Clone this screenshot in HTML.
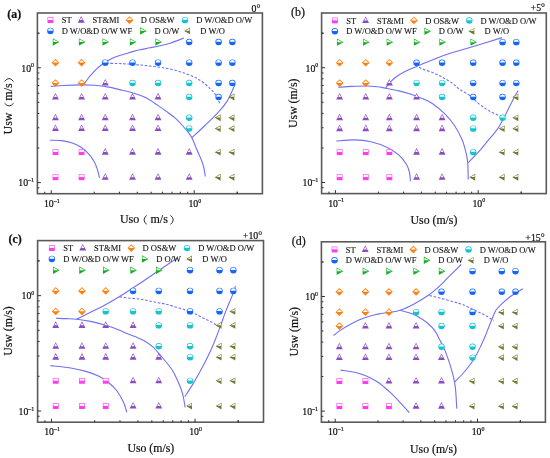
<!DOCTYPE html>
<html><head><meta charset="utf-8"><style>
html,body{margin:0;padding:0;background:#fff;width:550px;height:458px;overflow:hidden;font-family:"Liberation Serif",serif;}
svg{display:block;filter:blur(0.35px);}
text{stroke:#111;stroke-width:0.2px;}
text[font-size="8.5"]{stroke-width:0.1px;}
</style></head><body>
<svg width="550" height="458" viewBox="0 0 550 458">
<rect width="550" height="458" fill="#fff"/>
<path d="M50.80,86.40 C52.87,86.25 58.10,85.75 63.20,85.50 C68.30,85.25 76.10,84.93 81.40,84.90 C86.70,84.87 90.47,84.93 95.00,85.30 C99.53,85.67 104.05,86.27 108.60,87.10 C113.15,87.93 118.20,89.32 122.30,90.30 C126.40,91.28 129.42,91.83 133.20,93.00 C136.98,94.17 140.83,95.20 145.00,97.30 C149.17,99.40 154.37,103.07 158.20,105.60 C162.03,108.13 164.97,110.25 168.00,112.50 C171.03,114.75 173.42,116.27 176.40,119.10 C179.38,121.93 183.35,126.43 185.90,129.50 C188.45,132.57 189.87,134.12 191.70,137.50 C193.53,140.88 195.30,146.10 196.90,149.80 C198.50,153.50 200.15,156.75 201.30,159.70 C202.45,162.65 203.13,164.70 203.80,167.50 C204.47,170.30 205.05,175.00 205.30,176.50" fill="none" stroke="#7070f5" stroke-width="1.1"/>
<path d="M83.50,85.00 C84.25,83.92 86.58,80.37 88.00,78.50 C89.42,76.63 90.50,75.45 92.00,73.80 C93.50,72.15 95.50,70.03 97.00,68.60 C98.50,67.17 99.62,66.23 101.00,65.20 C102.38,64.17 103.60,63.45 105.25,62.40 C106.90,61.35 108.74,59.97 110.90,58.90 C113.06,57.83 115.77,56.85 118.20,56.00 C120.63,55.15 123.08,54.53 125.50,53.80 C127.92,53.07 130.28,52.27 132.70,51.60 C135.12,50.93 137.12,50.43 140.00,49.80 C142.88,49.17 146.67,48.48 150.00,47.80 C153.33,47.12 156.67,46.47 160.00,45.70 C163.33,44.93 166.00,44.47 170.00,43.20 C174.00,41.93 181.67,38.95 184.00,38.10" fill="none" stroke="#7070f5" stroke-width="1.1"/>
<path d="M106.00,63.30 C108.00,63.33 114.63,63.40 118.00,63.50 C121.37,63.60 122.53,63.65 126.20,63.90 C129.87,64.15 136.03,64.65 140.00,65.00 C143.97,65.35 146.67,65.62 150.00,66.00 C153.33,66.38 156.88,66.85 160.00,67.30 C163.12,67.75 165.78,68.10 168.70,68.70 C171.62,69.30 174.70,70.10 177.50,70.90 C180.30,71.70 182.83,72.53 185.50,73.50 C188.17,74.47 191.45,75.80 193.50,76.70 C195.55,77.60 196.03,77.82 197.80,78.90 C199.57,79.98 201.97,81.50 204.10,83.20 C206.23,84.90 208.75,87.25 210.60,89.10 C212.45,90.95 213.67,91.90 215.20,94.30 C216.73,96.70 219.03,101.97 219.80,103.50" fill="none" stroke="#7070f5" stroke-width="1.1" stroke-dasharray="2.6,1.7"/>
<path d="M192.00,137.60 C194.25,135.50 201.07,129.30 205.50,125.00 C209.93,120.70 214.97,115.82 218.60,111.80 C222.23,107.78 224.57,105.45 227.30,100.90 C230.03,96.35 233.72,87.23 235.00,84.50" fill="none" stroke="#7070f5" stroke-width="1.1"/>
<path d="M49.90,140.20 C51.82,140.27 57.67,140.15 61.40,140.60 C65.13,141.05 69.03,141.78 72.30,142.90 C75.57,144.02 78.28,145.48 81.00,147.30 C83.72,149.12 86.42,151.45 88.60,153.80 C90.78,156.15 92.65,158.85 94.10,161.40 C95.55,163.95 96.40,166.37 97.30,169.10 C98.20,171.83 99.13,176.35 99.50,177.80" fill="none" stroke="#7070f5" stroke-width="1.1"/>
<path d="M52.75,38.35 L59.35,42.05 L52.75,45.75Z" fill="#10b020"/><path d="M53.35,39.37 L58.12,42.05 L58.12,42.05 L53.35,42.05Z" fill="#fff"/>
<path d="M78.90,38.35 L85.50,42.05 L78.90,45.75Z" fill="#10b020"/><path d="M79.50,39.37 L84.27,42.05 L84.27,42.05 L79.50,42.05Z" fill="#fff"/>
<path d="M102.55,38.35 L109.15,42.05 L102.55,45.75Z" fill="#10b020"/><path d="M103.15,39.37 L107.92,42.05 L107.92,42.05 L103.15,42.05Z" fill="#fff"/>
<path d="M129.80,38.35 L136.40,42.05 L129.80,45.75Z" fill="#10b020"/><path d="M130.40,39.37 L135.17,42.05 L135.17,42.05 L130.40,42.05Z" fill="#fff"/>
<path d="M155.35,38.35 L161.95,42.05 L155.35,45.75Z" fill="#10b020"/><path d="M155.95,39.37 L160.72,42.05 L160.72,42.05 L155.95,42.05Z" fill="#fff"/>
<circle cx="189.20" cy="42.05" r="3.20" fill="#1464ff"/><path d="M186.62,41.75 A2.60,2.60 0 0 1 191.78,41.75Z" fill="#fff"/>
<circle cx="218.60" cy="42.05" r="3.20" fill="#1464ff"/><path d="M216.02,41.75 A2.60,2.60 0 0 1 221.18,41.75Z" fill="#fff"/>
<circle cx="232.35" cy="42.05" r="3.20" fill="#1464ff"/><path d="M229.77,41.75 A2.60,2.60 0 0 1 234.93,41.75Z" fill="#fff"/>
<path d="M55.45,58.85 L59.30,62.70 L55.45,66.55 L51.60,62.70Z" fill="#ff8010"/><path d="M55.45,60.05 L58.00,62.60 L52.90,62.60Z" fill="#fff"/>
<path d="M81.60,58.85 L85.45,62.70 L81.60,66.55 L77.75,62.70Z" fill="#ff8010"/><path d="M81.60,60.05 L84.15,62.60 L79.05,62.60Z" fill="#fff"/>
<circle cx="105.25" cy="62.70" r="3.20" fill="#1464ff"/><path d="M102.67,62.40 A2.60,2.60 0 0 1 107.83,62.40Z" fill="#fff"/>
<circle cx="132.50" cy="62.70" r="3.20" fill="#1464ff"/><path d="M129.92,62.40 A2.60,2.60 0 0 1 135.08,62.40Z" fill="#fff"/>
<circle cx="158.05" cy="62.70" r="3.20" fill="#1464ff"/><path d="M155.47,62.40 A2.60,2.60 0 0 1 160.63,62.40Z" fill="#fff"/>
<circle cx="189.20" cy="62.70" r="3.20" fill="#1464ff"/><path d="M186.62,62.40 A2.60,2.60 0 0 1 191.78,62.40Z" fill="#fff"/>
<circle cx="218.60" cy="62.70" r="3.20" fill="#1464ff"/><path d="M216.02,62.40 A2.60,2.60 0 0 1 221.18,62.40Z" fill="#fff"/>
<circle cx="232.35" cy="62.70" r="3.20" fill="#1464ff"/><path d="M229.77,62.40 A2.60,2.60 0 0 1 234.93,62.40Z" fill="#fff"/>
<path d="M55.45,79.20 L59.30,83.05 L55.45,86.90 L51.60,83.05Z" fill="#ff8010"/><path d="M55.45,80.40 L58.00,82.95 L52.90,82.95Z" fill="#fff"/>
<path d="M81.60,79.20 L85.45,83.05 L81.60,86.90 L77.75,83.05Z" fill="#ff8010"/><path d="M81.60,80.40 L84.15,82.95 L79.05,82.95Z" fill="#fff"/>
<path d="M105.25,78.95 L108.70,85.55 L101.80,85.55Z" fill="#8a4cbf"/><path d="M105.25,80.29 L106.64,82.95 L103.86,82.95Z" fill="#fff"/>
<circle cx="132.50" cy="83.05" r="3.20" fill="#14c4d0"/><path d="M129.92,82.75 A2.60,2.60 0 0 1 135.08,82.75Z" fill="#fff"/>
<circle cx="158.05" cy="83.05" r="3.20" fill="#14c4d0"/><path d="M155.47,82.75 A2.60,2.60 0 0 1 160.63,82.75Z" fill="#fff"/>
<circle cx="189.20" cy="83.05" r="3.20" fill="#14c4d0"/><path d="M186.62,82.75 A2.60,2.60 0 0 1 191.78,82.75Z" fill="#fff"/>
<circle cx="218.60" cy="83.05" r="3.20" fill="#1464ff"/><path d="M216.02,82.75 A2.60,2.60 0 0 1 221.18,82.75Z" fill="#fff"/>
<circle cx="232.35" cy="83.05" r="3.20" fill="#1464ff"/><path d="M229.77,82.75 A2.60,2.60 0 0 1 234.93,82.75Z" fill="#fff"/>
<path d="M55.45,92.90 L58.90,99.50 L52.00,99.50Z" fill="#8a4cbf"/><path d="M55.45,94.24 L56.84,96.90 L54.06,96.90Z" fill="#fff"/>
<path d="M81.60,92.90 L85.05,99.50 L78.15,99.50Z" fill="#8a4cbf"/><path d="M81.60,94.24 L82.99,96.90 L80.21,96.90Z" fill="#fff"/>
<path d="M105.25,92.90 L108.70,99.50 L101.80,99.50Z" fill="#8a4cbf"/><path d="M105.25,94.24 L106.64,96.90 L103.86,96.90Z" fill="#fff"/>
<path d="M132.50,92.90 L135.95,99.50 L129.05,99.50Z" fill="#8a4cbf"/><path d="M132.50,94.24 L133.89,96.90 L131.11,96.90Z" fill="#fff"/>
<path d="M158.05,92.90 L161.50,99.50 L154.60,99.50Z" fill="#8a4cbf"/><path d="M158.05,94.24 L159.44,96.90 L156.66,96.90Z" fill="#fff"/>
<circle cx="189.20" cy="97.00" r="3.20" fill="#14c4d0"/><path d="M186.62,96.70 A2.60,2.60 0 0 1 191.78,96.70Z" fill="#fff"/>
<circle cx="218.60" cy="97.00" r="3.20" fill="#1464ff"/><path d="M216.02,96.70 A2.60,2.60 0 0 1 221.18,96.70Z" fill="#fff"/>
<path d="M234.35,93.60 L234.35,100.40 L228.45,97.00Z" fill="#727a30"/><path d="M233.80,94.55 L233.80,96.80 L229.90,96.80Z" fill="#fff"/>
<path d="M55.45,113.65 L58.90,120.25 L52.00,120.25Z" fill="#8a4cbf"/><path d="M55.45,114.99 L56.84,117.65 L54.06,117.65Z" fill="#fff"/>
<path d="M81.60,113.65 L85.05,120.25 L78.15,120.25Z" fill="#8a4cbf"/><path d="M81.60,114.99 L82.99,117.65 L80.21,117.65Z" fill="#fff"/>
<path d="M105.25,113.65 L108.70,120.25 L101.80,120.25Z" fill="#8a4cbf"/><path d="M105.25,114.99 L106.64,117.65 L103.86,117.65Z" fill="#fff"/>
<path d="M132.50,113.65 L135.95,120.25 L129.05,120.25Z" fill="#8a4cbf"/><path d="M132.50,114.99 L133.89,117.65 L131.11,117.65Z" fill="#fff"/>
<path d="M158.05,113.65 L161.50,120.25 L154.60,120.25Z" fill="#8a4cbf"/><path d="M158.05,114.99 L159.44,117.65 L156.66,117.65Z" fill="#fff"/>
<circle cx="189.20" cy="117.75" r="3.20" fill="#14c4d0"/><path d="M186.62,117.45 A2.60,2.60 0 0 1 191.78,117.45Z" fill="#fff"/>
<path d="M220.60,114.35 L220.60,121.15 L214.70,117.75Z" fill="#727a30"/><path d="M220.05,115.30 L220.05,117.55 L216.15,117.55Z" fill="#fff"/>
<path d="M234.35,114.35 L234.35,121.15 L228.45,117.75Z" fill="#727a30"/><path d="M233.80,115.30 L233.80,117.55 L229.90,117.55Z" fill="#fff"/>
<path d="M55.45,124.50 L58.90,131.10 L52.00,131.10Z" fill="#8a4cbf"/><path d="M55.45,125.84 L56.84,128.50 L54.06,128.50Z" fill="#fff"/>
<path d="M81.60,124.50 L85.05,131.10 L78.15,131.10Z" fill="#8a4cbf"/><path d="M81.60,125.84 L82.99,128.50 L80.21,128.50Z" fill="#fff"/>
<path d="M105.25,124.50 L108.70,131.10 L101.80,131.10Z" fill="#8a4cbf"/><path d="M105.25,125.84 L106.64,128.50 L103.86,128.50Z" fill="#fff"/>
<path d="M132.50,124.50 L135.95,131.10 L129.05,131.10Z" fill="#8a4cbf"/><path d="M132.50,125.84 L133.89,128.50 L131.11,128.50Z" fill="#fff"/>
<path d="M158.05,124.50 L161.50,131.10 L154.60,131.10Z" fill="#8a4cbf"/><path d="M158.05,125.84 L159.44,128.50 L156.66,128.50Z" fill="#fff"/>
<circle cx="189.20" cy="128.60" r="3.20" fill="#14c4d0"/><path d="M186.62,128.30 A2.60,2.60 0 0 1 191.78,128.30Z" fill="#fff"/>
<path d="M220.60,125.20 L220.60,132.00 L214.70,128.60Z" fill="#727a30"/><path d="M220.05,126.15 L220.05,128.40 L216.15,128.40Z" fill="#fff"/>
<path d="M234.35,125.20 L234.35,132.00 L228.45,128.60Z" fill="#727a30"/><path d="M233.80,126.15 L233.80,128.40 L229.90,128.40Z" fill="#fff"/>
<path d="M52.55,149.25 L58.35,149.25 L58.35,155.05 L52.55,155.05Z" fill="#ff3cf0"/><path d="M53.15,149.85 L57.75,149.85 L57.75,151.95 L53.15,151.95Z" fill="#fff"/>
<path d="M78.70,149.25 L84.50,149.25 L84.50,155.05 L78.70,155.05Z" fill="#ff3cf0"/><path d="M79.30,149.85 L83.90,149.85 L83.90,151.95 L79.30,151.95Z" fill="#fff"/>
<path d="M105.25,148.05 L108.70,154.65 L101.80,154.65Z" fill="#8a4cbf"/><path d="M105.25,149.39 L106.64,152.05 L103.86,152.05Z" fill="#fff"/>
<path d="M132.50,148.05 L135.95,154.65 L129.05,154.65Z" fill="#8a4cbf"/><path d="M132.50,149.39 L133.89,152.05 L131.11,152.05Z" fill="#fff"/>
<path d="M158.05,148.05 L161.50,154.65 L154.60,154.65Z" fill="#8a4cbf"/><path d="M158.05,149.39 L159.44,152.05 L156.66,152.05Z" fill="#fff"/>
<path d="M189.20,148.05 L192.65,154.65 L185.75,154.65Z" fill="#8a4cbf"/><path d="M189.20,149.39 L190.59,152.05 L187.81,152.05Z" fill="#fff"/>
<path d="M220.60,148.75 L220.60,155.55 L214.70,152.15Z" fill="#727a30"/><path d="M220.05,149.70 L220.05,151.95 L216.15,151.95Z" fill="#fff"/>
<path d="M234.35,148.75 L234.35,155.55 L228.45,152.15Z" fill="#727a30"/><path d="M233.80,149.70 L233.80,151.95 L229.90,151.95Z" fill="#fff"/>
<path d="M52.55,174.35 L58.35,174.35 L58.35,180.15 L52.55,180.15Z" fill="#ff3cf0"/><path d="M53.15,174.95 L57.75,174.95 L57.75,177.05 L53.15,177.05Z" fill="#fff"/>
<path d="M78.70,174.35 L84.50,174.35 L84.50,180.15 L78.70,180.15Z" fill="#ff3cf0"/><path d="M79.30,174.95 L83.90,174.95 L83.90,177.05 L79.30,177.05Z" fill="#fff"/>
<path d="M105.25,173.15 L108.70,179.75 L101.80,179.75Z" fill="#8a4cbf"/><path d="M105.25,174.49 L106.64,177.15 L103.86,177.15Z" fill="#fff"/>
<path d="M132.50,173.15 L135.95,179.75 L129.05,179.75Z" fill="#8a4cbf"/><path d="M132.50,174.49 L133.89,177.15 L131.11,177.15Z" fill="#fff"/>
<path d="M158.05,173.15 L161.50,179.75 L154.60,179.75Z" fill="#8a4cbf"/><path d="M158.05,174.49 L159.44,177.15 L156.66,177.15Z" fill="#fff"/>
<path d="M189.20,173.15 L192.65,179.75 L185.75,179.75Z" fill="#8a4cbf"/><path d="M189.20,174.49 L190.59,177.15 L187.81,177.15Z" fill="#fff"/>
<path d="M220.60,173.85 L220.60,180.65 L214.70,177.25Z" fill="#727a30"/><path d="M220.05,174.80 L220.05,177.05 L216.15,177.05Z" fill="#fff"/>
<path d="M234.35,173.85 L234.35,180.65 L228.45,177.25Z" fill="#727a30"/><path d="M233.80,174.80 L233.80,177.05 L229.90,177.05Z" fill="#fff"/>
<path d="M47.50,17.25 L53.30,17.25 L53.30,23.05 L47.50,23.05Z" fill="#ff3cf0"/><path d="M48.10,17.85 L52.70,17.85 L52.70,19.95 L48.10,19.95Z" fill="#fff"/>
<text x="61.70" y="23.15" font-size="8.5" font-family="Liberation Serif, serif" fill="#111">ST</text>
<path d="M81.20,16.05 L84.65,22.65 L77.75,22.65Z" fill="#8a4cbf"/><path d="M81.20,17.39 L82.59,20.05 L79.81,20.05Z" fill="#fff"/>
<text x="92.50" y="23.15" font-size="8.5" font-family="Liberation Serif, serif" fill="#111">ST&amp;MI</text>
<path d="M129.50,16.30 L133.35,20.15 L129.50,24.00 L125.65,20.15Z" fill="#ff8010"/><path d="M129.50,17.50 L132.05,20.05 L126.95,20.05Z" fill="#fff"/>
<text x="140.80" y="23.15" font-size="8.5" font-family="Liberation Serif, serif" fill="#111">D OS&amp;W</text>
<circle cx="185.00" cy="20.15" r="3.20" fill="#14c4d0"/><path d="M182.42,19.85 A2.60,2.60 0 0 1 187.58,19.85Z" fill="#fff"/>
<text x="196.20" y="23.15" font-size="8.5" font-family="Liberation Serif, serif" fill="#111">D W/O&amp;D O/W</text>
<circle cx="50.40" cy="30.95" r="3.20" fill="#1464ff"/><path d="M47.82,30.65 A2.60,2.60 0 0 1 52.98,30.65Z" fill="#fff"/>
<text x="61.70" y="33.95" font-size="8.5" font-family="Liberation Serif, serif" fill="#111">D W/O&amp;D O/W WF</text>
<path d="M140.10,27.25 L146.70,30.95 L140.10,34.65Z" fill="#10b020"/><path d="M140.70,28.27 L145.47,30.95 L145.47,30.95 L140.70,30.95Z" fill="#fff"/>
<text x="154.50" y="33.95" font-size="8.5" font-family="Liberation Serif, serif" fill="#111">D O/W</text>
<path d="M190.00,27.55 L190.00,34.35 L184.10,30.95Z" fill="#727a30"/><path d="M189.45,28.50 L189.45,30.75 L185.55,30.75Z" fill="#fff"/>
<text x="200.30" y="33.95" font-size="8.5" font-family="Liberation Serif, serif" fill="#111">D W/O</text>
<rect x="37.40" y="13.00" width="225.0" height="180.7" fill="none" stroke="#5a5a5a" stroke-width="1.6"/>
<line x1="44.71" y1="193.70" x2="44.71" y2="191.70" stroke="#333" stroke-width="1"/>
<line x1="37.40" y1="187.83" x2="39.40" y2="187.83" stroke="#333" stroke-width="1"/>
<line x1="51.25" y1="193.70" x2="51.25" y2="190.20" stroke="#333" stroke-width="1"/>
<line x1="37.40" y1="182.57" x2="40.90" y2="182.57" stroke="#333" stroke-width="1"/>
<line x1="94.28" y1="193.70" x2="94.28" y2="191.70" stroke="#333" stroke-width="1"/>
<line x1="37.40" y1="148.02" x2="39.40" y2="148.02" stroke="#333" stroke-width="1"/>
<line x1="119.45" y1="193.70" x2="119.45" y2="191.70" stroke="#333" stroke-width="1"/>
<line x1="37.40" y1="127.80" x2="39.40" y2="127.80" stroke="#333" stroke-width="1"/>
<line x1="137.31" y1="193.70" x2="137.31" y2="191.70" stroke="#333" stroke-width="1"/>
<line x1="37.40" y1="113.46" x2="39.40" y2="113.46" stroke="#333" stroke-width="1"/>
<line x1="151.17" y1="193.70" x2="151.17" y2="191.70" stroke="#333" stroke-width="1"/>
<line x1="37.40" y1="102.33" x2="39.40" y2="102.33" stroke="#333" stroke-width="1"/>
<line x1="162.49" y1="193.70" x2="162.49" y2="191.70" stroke="#333" stroke-width="1"/>
<line x1="37.40" y1="93.24" x2="39.40" y2="93.24" stroke="#333" stroke-width="1"/>
<line x1="172.06" y1="193.70" x2="172.06" y2="191.70" stroke="#333" stroke-width="1"/>
<line x1="37.40" y1="85.56" x2="39.40" y2="85.56" stroke="#333" stroke-width="1"/>
<line x1="180.35" y1="193.70" x2="180.35" y2="191.70" stroke="#333" stroke-width="1"/>
<line x1="37.40" y1="78.90" x2="39.40" y2="78.90" stroke="#333" stroke-width="1"/>
<line x1="187.66" y1="193.70" x2="187.66" y2="191.70" stroke="#333" stroke-width="1"/>
<line x1="37.40" y1="73.03" x2="39.40" y2="73.03" stroke="#333" stroke-width="1"/>
<line x1="194.20" y1="193.70" x2="194.20" y2="190.20" stroke="#333" stroke-width="1"/>
<line x1="37.40" y1="67.77" x2="40.90" y2="67.77" stroke="#333" stroke-width="1"/>
<line x1="237.23" y1="193.70" x2="237.23" y2="191.70" stroke="#333" stroke-width="1"/>
<line x1="37.40" y1="33.22" x2="39.40" y2="33.22" stroke="#333" stroke-width="1"/>
<line x1="237.23" y1="193.70" x2="237.23" y2="191.70" stroke="#333" stroke-width="1"/>
<line x1="37.40" y1="33.22" x2="39.40" y2="33.22" stroke="#333" stroke-width="1"/>
<text x="51.85" y="206.60" font-size="9.8" font-family="Liberation Serif, serif" fill="#111" text-anchor="middle">10<tspan font-size="6" dy="-4.1">&#8211;1</tspan></text>
<text x="34.10" y="186.37" font-size="9.8" font-family="Liberation Serif, serif" fill="#111" text-anchor="end">10<tspan font-size="6" dy="-4.1">&#8211;1</tspan></text>
<text x="194.80" y="206.60" font-size="9.8" font-family="Liberation Serif, serif" fill="#111" text-anchor="middle">10<tspan font-size="6" dy="-4.1">0</tspan></text>
<text x="34.10" y="71.57" font-size="9.8" font-family="Liberation Serif, serif" fill="#111" text-anchor="end">10<tspan font-size="6" dy="-4.1">0</tspan></text>
<text x="7.16" y="17.76" font-size="12" font-family="Liberation Serif, serif" fill="#111" font-weight="bold">(a)</text>
<text x="260.48" y="11.76" font-size="9.9" font-family="Liberation Serif, serif" fill="#111" text-anchor="end">0°</text>
<g transform="translate(120.14,223.20)"><text x="-0.2" y="0" font-size="12.0" font-family="Liberation Serif, serif" fill="#111">Uso</text><path d="M26.50,-7.80 Q21.30,-3.30 26.50,1.20" fill="none" stroke="#222" stroke-width="0.95"/><text x="30.40" y="0" font-size="12.0" font-family="Liberation Serif, serif" fill="#111">m/s</text><path d="M50.40,-7.80 Q55.80,-3.30 50.40,1.20" fill="none" stroke="#222" stroke-width="0.95"/></g>
<g transform="translate(12.36,134.32) rotate(-90)"><text x="-0.2" y="0" font-size="12.0" font-family="Liberation Serif, serif" fill="#111">Usw</text><path d="M31.10,-7.80 Q25.70,-3.30 31.10,1.20" fill="none" stroke="#222" stroke-width="0.95"/><text x="33.70" y="0" font-size="12.0" font-family="Liberation Serif, serif" fill="#111">m/s</text><path d="M52.80,-7.80 Q58.80,-3.30 52.80,1.20" fill="none" stroke="#222" stroke-width="0.95"/></g>
<path d="M338.20,87.30 C340.47,87.15 347.25,86.62 351.80,86.40 C356.35,86.18 361.25,85.95 365.50,86.00 C369.75,86.05 373.97,86.33 377.30,86.70 C380.63,87.07 381.88,87.50 385.50,88.20 C389.12,88.90 394.62,89.85 399.00,90.90 C403.38,91.95 407.85,93.20 411.80,94.50 C415.75,95.80 419.28,97.20 422.70,98.70 C426.12,100.20 428.65,101.00 432.30,103.50 C435.95,106.00 440.90,110.03 444.60,113.70 C448.30,117.37 451.55,121.08 454.50,125.50 C457.45,129.92 460.33,135.47 462.30,140.20 C464.27,144.93 465.38,149.97 466.30,153.90 C467.22,157.83 467.48,159.53 467.80,163.80 C468.12,168.07 468.13,176.88 468.20,179.50" fill="none" stroke="#7070f5" stroke-width="1.1"/>
<path d="M385.50,88.20 C386.25,87.28 388.37,84.48 390.00,82.70 C391.63,80.92 392.80,79.37 395.30,77.50 C397.80,75.63 401.62,73.27 405.00,71.50 C408.38,69.73 409.17,69.58 415.60,66.90 C422.03,64.22 434.68,58.58 443.60,55.40 C452.52,52.22 459.35,50.77 469.10,47.80 C478.85,44.83 496.60,39.30 502.10,37.60" fill="none" stroke="#7070f5" stroke-width="1.1"/>
<path d="M415.50,65.00 C416.70,65.67 419.60,67.63 422.70,69.00 C425.80,70.37 430.68,71.75 434.10,73.20 C437.52,74.65 440.17,76.03 443.20,77.70 C446.23,79.37 449.50,81.22 452.30,83.20 C455.10,85.18 457.17,87.60 460.00,89.60 C462.83,91.60 466.20,92.87 469.30,95.20 C472.40,97.53 475.50,101.12 478.60,103.60 C481.70,106.08 484.82,108.25 487.90,110.10 C490.98,111.95 494.63,113.62 497.10,114.70 C499.57,115.78 501.77,116.28 502.70,116.60" fill="none" stroke="#7070f5" stroke-width="1.1" stroke-dasharray="2.6,1.7"/>
<path d="M468.30,162.60 C470.02,160.82 475.33,155.55 478.60,151.90 C481.87,148.25 484.82,144.42 487.90,140.70 C490.98,136.98 494.63,133.00 497.10,129.60 C499.57,126.20 500.83,123.72 502.70,120.30 C504.57,116.88 506.43,112.82 508.30,109.10 C510.17,105.38 512.25,101.10 513.90,98.00 C515.55,94.90 517.48,91.75 518.20,90.50" fill="none" stroke="#7070f5" stroke-width="1.1"/>
<path d="M336.30,141.00 C339.33,140.82 348.73,139.77 354.50,139.90 C360.27,140.03 365.43,140.53 370.90,141.80 C376.37,143.07 382.67,145.32 387.30,147.50 C391.93,149.68 395.52,152.12 398.70,154.90 C401.88,157.68 404.60,161.27 406.40,164.20 C408.20,167.13 408.83,169.67 409.50,172.50 C410.17,175.33 410.25,179.75 410.40,181.20" fill="none" stroke="#7070f5" stroke-width="1.1"/>
<path d="M336.93,38.43 L343.53,42.13 L336.93,45.83Z" fill="#10b020"/><path d="M337.53,39.46 L342.30,42.13 L342.30,42.13 L337.53,42.13Z" fill="#fff"/>
<path d="M363.04,38.43 L369.64,42.13 L363.04,45.83Z" fill="#10b020"/><path d="M363.64,39.46 L368.41,42.13 L368.41,42.13 L363.64,42.13Z" fill="#fff"/>
<path d="M386.66,38.43 L393.26,42.13 L386.66,45.83Z" fill="#10b020"/><path d="M387.26,39.46 L392.03,42.13 L392.03,42.13 L387.26,42.13Z" fill="#fff"/>
<path d="M413.87,38.43 L420.47,42.13 L413.87,45.83Z" fill="#10b020"/><path d="M414.47,39.46 L419.25,42.13 L419.25,42.13 L414.47,42.13Z" fill="#fff"/>
<path d="M439.39,38.43 L445.99,42.13 L439.39,45.83Z" fill="#10b020"/><path d="M439.99,39.46 L444.76,42.13 L444.76,42.13 L439.99,42.13Z" fill="#fff"/>
<path d="M470.50,38.43 L477.10,42.13 L470.50,45.83Z" fill="#10b020"/><path d="M471.10,39.46 L475.87,42.13 L475.87,42.13 L471.10,42.13Z" fill="#fff"/>
<circle cx="502.56" cy="42.13" r="3.20" fill="#1464ff"/><path d="M499.98,41.83 A2.60,2.60 0 0 1 505.14,41.83Z" fill="#fff"/>
<circle cx="516.29" cy="42.13" r="3.20" fill="#1464ff"/><path d="M513.71,41.83 A2.60,2.60 0 0 1 518.87,41.83Z" fill="#fff"/>
<path d="M339.63,58.92 L343.48,62.77 L339.63,66.62 L335.78,62.77Z" fill="#ff8010"/><path d="M339.63,60.12 L342.17,62.67 L337.08,62.67Z" fill="#fff"/>
<path d="M365.74,58.92 L369.59,62.77 L365.74,66.62 L361.89,62.77Z" fill="#ff8010"/><path d="M365.74,60.12 L368.29,62.67 L363.19,62.67Z" fill="#fff"/>
<path d="M389.36,58.92 L393.21,62.77 L389.36,66.62 L385.51,62.77Z" fill="#ff8010"/><path d="M389.36,60.12 L391.91,62.67 L386.81,62.67Z" fill="#fff"/>
<circle cx="416.57" cy="62.77" r="3.20" fill="#1464ff"/><path d="M413.99,62.47 A2.60,2.60 0 0 1 419.16,62.47Z" fill="#fff"/>
<circle cx="442.09" cy="62.77" r="3.20" fill="#1464ff"/><path d="M439.51,62.47 A2.60,2.60 0 0 1 444.67,62.47Z" fill="#fff"/>
<circle cx="473.20" cy="62.77" r="3.20" fill="#1464ff"/><path d="M470.61,62.47 A2.60,2.60 0 0 1 475.78,62.47Z" fill="#fff"/>
<circle cx="502.56" cy="62.77" r="3.20" fill="#1464ff"/><path d="M499.98,62.47 A2.60,2.60 0 0 1 505.14,62.47Z" fill="#fff"/>
<circle cx="516.29" cy="62.77" r="3.20" fill="#1464ff"/><path d="M513.71,62.47 A2.60,2.60 0 0 1 518.87,62.47Z" fill="#fff"/>
<path d="M339.63,79.26 L343.48,83.11 L339.63,86.96 L335.78,83.11Z" fill="#ff8010"/><path d="M339.63,80.46 L342.17,83.01 L337.08,83.01Z" fill="#fff"/>
<path d="M365.74,79.26 L369.59,83.11 L365.74,86.96 L361.89,83.11Z" fill="#ff8010"/><path d="M365.74,80.46 L368.29,83.01 L363.19,83.01Z" fill="#fff"/>
<path d="M389.36,79.01 L392.81,85.61 L385.91,85.61Z" fill="#8a4cbf"/><path d="M389.36,80.35 L390.75,83.01 L387.97,83.01Z" fill="#fff"/>
<circle cx="416.57" cy="83.11" r="3.20" fill="#14c4d0"/><path d="M413.99,82.81 A2.60,2.60 0 0 1 419.16,82.81Z" fill="#fff"/>
<circle cx="442.09" cy="83.11" r="3.20" fill="#14c4d0"/><path d="M439.51,82.81 A2.60,2.60 0 0 1 444.67,82.81Z" fill="#fff"/>
<circle cx="473.20" cy="83.11" r="3.20" fill="#1464ff"/><path d="M470.61,82.81 A2.60,2.60 0 0 1 475.78,82.81Z" fill="#fff"/>
<circle cx="502.56" cy="83.11" r="3.20" fill="#1464ff"/><path d="M499.98,82.81 A2.60,2.60 0 0 1 505.14,82.81Z" fill="#fff"/>
<circle cx="516.29" cy="83.11" r="3.20" fill="#1464ff"/><path d="M513.71,82.81 A2.60,2.60 0 0 1 518.87,82.81Z" fill="#fff"/>
<path d="M339.63,92.95 L343.08,99.55 L336.18,99.55Z" fill="#8a4cbf"/><path d="M339.63,94.29 L341.02,96.95 L338.23,96.95Z" fill="#fff"/>
<path d="M365.74,92.95 L369.19,99.55 L362.29,99.55Z" fill="#8a4cbf"/><path d="M365.74,94.29 L367.13,96.95 L364.35,96.95Z" fill="#fff"/>
<path d="M389.36,92.95 L392.81,99.55 L385.91,99.55Z" fill="#8a4cbf"/><path d="M389.36,94.29 L390.75,96.95 L387.97,96.95Z" fill="#fff"/>
<path d="M416.57,92.95 L420.02,99.55 L413.12,99.55Z" fill="#8a4cbf"/><path d="M416.57,94.29 L417.96,96.95 L415.18,96.95Z" fill="#fff"/>
<circle cx="442.09" cy="97.05" r="3.20" fill="#14c4d0"/><path d="M439.51,96.75 A2.60,2.60 0 0 1 444.67,96.75Z" fill="#fff"/>
<circle cx="473.20" cy="97.05" r="3.20" fill="#1464ff"/><path d="M470.61,96.75 A2.60,2.60 0 0 1 475.78,96.75Z" fill="#fff"/>
<circle cx="502.56" cy="97.05" r="3.20" fill="#1464ff"/><path d="M499.98,96.75 A2.60,2.60 0 0 1 505.14,96.75Z" fill="#fff"/>
<path d="M518.29,93.65 L518.29,100.45 L512.39,97.05Z" fill="#727a30"/><path d="M517.74,94.61 L517.74,96.85 L513.84,96.85Z" fill="#fff"/>
<path d="M339.63,113.69 L343.08,120.29 L336.18,120.29Z" fill="#8a4cbf"/><path d="M339.63,115.03 L341.02,117.69 L338.23,117.69Z" fill="#fff"/>
<path d="M365.74,113.69 L369.19,120.29 L362.29,120.29Z" fill="#8a4cbf"/><path d="M365.74,115.03 L367.13,117.69 L364.35,117.69Z" fill="#fff"/>
<path d="M389.36,113.69 L392.81,120.29 L385.91,120.29Z" fill="#8a4cbf"/><path d="M389.36,115.03 L390.75,117.69 L387.97,117.69Z" fill="#fff"/>
<path d="M416.57,113.69 L420.02,120.29 L413.12,120.29Z" fill="#8a4cbf"/><path d="M416.57,115.03 L417.96,117.69 L415.18,117.69Z" fill="#fff"/>
<path d="M442.09,113.69 L445.54,120.29 L438.64,120.29Z" fill="#8a4cbf"/><path d="M442.09,115.03 L443.48,117.69 L440.70,117.69Z" fill="#fff"/>
<circle cx="473.20" cy="117.79" r="3.20" fill="#14c4d0"/><path d="M470.61,117.49 A2.60,2.60 0 0 1 475.78,117.49Z" fill="#fff"/>
<circle cx="502.56" cy="117.79" r="3.20" fill="#14c4d0"/><path d="M499.98,117.49 A2.60,2.60 0 0 1 505.14,117.49Z" fill="#fff"/>
<path d="M518.29,114.39 L518.29,121.19 L512.39,117.79Z" fill="#727a30"/><path d="M517.74,115.34 L517.74,117.59 L513.84,117.59Z" fill="#fff"/>
<path d="M339.63,124.54 L343.08,131.14 L336.18,131.14Z" fill="#8a4cbf"/><path d="M339.63,125.87 L341.02,128.54 L338.23,128.54Z" fill="#fff"/>
<path d="M365.74,124.54 L369.19,131.14 L362.29,131.14Z" fill="#8a4cbf"/><path d="M365.74,125.87 L367.13,128.54 L364.35,128.54Z" fill="#fff"/>
<path d="M389.36,124.54 L392.81,131.14 L385.91,131.14Z" fill="#8a4cbf"/><path d="M389.36,125.87 L390.75,128.54 L387.97,128.54Z" fill="#fff"/>
<path d="M416.57,124.54 L420.02,131.14 L413.12,131.14Z" fill="#8a4cbf"/><path d="M416.57,125.87 L417.96,128.54 L415.18,128.54Z" fill="#fff"/>
<path d="M442.09,124.54 L445.54,131.14 L438.64,131.14Z" fill="#8a4cbf"/><path d="M442.09,125.87 L443.48,128.54 L440.70,128.54Z" fill="#fff"/>
<circle cx="473.20" cy="128.64" r="3.20" fill="#14c4d0"/><path d="M470.61,128.34 A2.60,2.60 0 0 1 475.78,128.34Z" fill="#fff"/>
<path d="M504.56,125.24 L504.56,132.04 L498.66,128.64Z" fill="#727a30"/><path d="M504.01,126.19 L504.01,128.44 L500.11,128.44Z" fill="#fff"/>
<path d="M518.29,125.24 L518.29,132.04 L512.39,128.64Z" fill="#727a30"/><path d="M517.74,126.19 L517.74,128.44 L513.84,128.44Z" fill="#fff"/>
<path d="M336.73,149.27 L342.53,149.27 L342.53,155.07 L336.73,155.07Z" fill="#ff3cf0"/><path d="M337.33,149.87 L341.93,149.87 L341.93,151.97 L337.33,151.97Z" fill="#fff"/>
<path d="M362.84,149.27 L368.64,149.27 L368.64,155.07 L362.84,155.07Z" fill="#ff3cf0"/><path d="M363.44,149.87 L368.04,149.87 L368.04,151.97 L363.44,151.97Z" fill="#fff"/>
<path d="M386.46,149.27 L392.26,149.27 L392.26,155.07 L386.46,155.07Z" fill="#ff3cf0"/><path d="M387.06,149.87 L391.66,149.87 L391.66,151.97 L387.06,151.97Z" fill="#fff"/>
<path d="M416.57,148.07 L420.02,154.67 L413.12,154.67Z" fill="#8a4cbf"/><path d="M416.57,149.41 L417.96,152.07 L415.18,152.07Z" fill="#fff"/>
<path d="M442.09,148.07 L445.54,154.67 L438.64,154.67Z" fill="#8a4cbf"/><path d="M442.09,149.41 L443.48,152.07 L440.70,152.07Z" fill="#fff"/>
<circle cx="473.20" cy="152.17" r="3.20" fill="#14c4d0"/><path d="M470.61,151.87 A2.60,2.60 0 0 1 475.78,151.87Z" fill="#fff"/>
<path d="M504.56,148.77 L504.56,155.57 L498.66,152.17Z" fill="#727a30"/><path d="M504.01,149.72 L504.01,151.97 L500.11,151.97Z" fill="#fff"/>
<path d="M518.29,148.77 L518.29,155.57 L512.39,152.17Z" fill="#727a30"/><path d="M517.74,149.72 L517.74,151.97 L513.84,151.97Z" fill="#fff"/>
<path d="M336.73,174.36 L342.53,174.36 L342.53,180.16 L336.73,180.16Z" fill="#ff3cf0"/><path d="M337.33,174.96 L341.93,174.96 L341.93,177.06 L337.33,177.06Z" fill="#fff"/>
<path d="M362.84,174.36 L368.64,174.36 L368.64,180.16 L362.84,180.16Z" fill="#ff3cf0"/><path d="M363.44,174.96 L368.04,174.96 L368.04,177.06 L363.44,177.06Z" fill="#fff"/>
<path d="M386.46,174.36 L392.26,174.36 L392.26,180.16 L386.46,180.16Z" fill="#ff3cf0"/><path d="M387.06,174.96 L391.66,174.96 L391.66,177.06 L387.06,177.06Z" fill="#fff"/>
<path d="M416.57,173.16 L420.02,179.76 L413.12,179.76Z" fill="#8a4cbf"/><path d="M416.57,174.50 L417.96,177.16 L415.18,177.16Z" fill="#fff"/>
<path d="M442.09,173.16 L445.54,179.76 L438.64,179.76Z" fill="#8a4cbf"/><path d="M442.09,174.50 L443.48,177.16 L440.70,177.16Z" fill="#fff"/>
<path d="M475.20,173.86 L475.20,180.66 L469.30,177.26Z" fill="#727a30"/><path d="M474.65,174.81 L474.65,177.06 L470.75,177.06Z" fill="#fff"/>
<path d="M504.56,173.86 L504.56,180.66 L498.66,177.26Z" fill="#727a30"/><path d="M504.01,174.81 L504.01,177.06 L500.11,177.06Z" fill="#fff"/>
<path d="M518.29,173.86 L518.29,180.66 L512.39,177.26Z" fill="#727a30"/><path d="M517.74,174.81 L517.74,177.06 L513.84,177.06Z" fill="#fff"/>
<path d="M331.98,17.60 L337.78,17.60 L337.78,23.40 L331.98,23.40Z" fill="#ff3cf0"/><path d="M332.58,18.20 L337.18,18.20 L337.18,20.30 L332.58,20.30Z" fill="#fff"/>
<text x="346.17" y="23.50" font-size="8.5" font-family="Liberation Serif, serif" fill="#111">ST</text>
<path d="M365.64,16.40 L369.09,23.00 L362.19,23.00Z" fill="#8a4cbf"/><path d="M365.64,17.73 L367.03,20.40 L364.25,20.40Z" fill="#fff"/>
<text x="376.93" y="23.50" font-size="8.5" font-family="Liberation Serif, serif" fill="#111">ST&amp;MI</text>
<path d="M413.88,16.65 L417.73,20.50 L413.88,24.35 L410.03,20.50Z" fill="#ff8010"/><path d="M413.88,17.85 L416.43,20.40 L411.33,20.40Z" fill="#fff"/>
<text x="425.16" y="23.50" font-size="8.5" font-family="Liberation Serif, serif" fill="#111">D OS&amp;W</text>
<circle cx="469.30" cy="20.50" r="3.20" fill="#14c4d0"/><path d="M466.72,20.20 A2.60,2.60 0 0 1 471.89,20.20Z" fill="#fff"/>
<text x="480.49" y="23.50" font-size="8.5" font-family="Liberation Serif, serif" fill="#111">D W/O&amp;D O/W</text>
<circle cx="334.88" cy="31.29" r="3.20" fill="#1464ff"/><path d="M332.30,30.99 A2.60,2.60 0 0 1 337.47,30.99Z" fill="#fff"/>
<text x="346.17" y="34.29" font-size="8.5" font-family="Liberation Serif, serif" fill="#111">D W/O&amp;D O/W WF</text>
<path d="M424.46,27.59 L431.06,31.29 L424.46,34.99Z" fill="#10b020"/><path d="M425.06,28.61 L429.83,31.29 L429.83,31.29 L425.06,31.29Z" fill="#fff"/>
<text x="438.84" y="34.29" font-size="8.5" font-family="Liberation Serif, serif" fill="#111">D O/W</text>
<path d="M474.30,27.89 L474.30,34.69 L468.40,31.29Z" fill="#727a30"/><path d="M473.75,28.84 L473.75,31.09 L469.85,31.09Z" fill="#fff"/>
<text x="484.58" y="34.29" font-size="8.5" font-family="Liberation Serif, serif" fill="#111">D W/O</text>
<rect x="321.60" y="13.00" width="224.7" height="180.6" fill="none" stroke="#5a5a5a" stroke-width="1.6"/>
<line x1="328.90" y1="193.60" x2="328.90" y2="191.60" stroke="#333" stroke-width="1"/>
<line x1="321.60" y1="187.73" x2="323.60" y2="187.73" stroke="#333" stroke-width="1"/>
<line x1="335.43" y1="193.60" x2="335.43" y2="190.10" stroke="#333" stroke-width="1"/>
<line x1="321.60" y1="182.48" x2="325.10" y2="182.48" stroke="#333" stroke-width="1"/>
<line x1="378.41" y1="193.60" x2="378.41" y2="191.60" stroke="#333" stroke-width="1"/>
<line x1="321.60" y1="147.94" x2="323.60" y2="147.94" stroke="#333" stroke-width="1"/>
<line x1="403.55" y1="193.60" x2="403.55" y2="191.60" stroke="#333" stroke-width="1"/>
<line x1="321.60" y1="127.74" x2="323.60" y2="127.74" stroke="#333" stroke-width="1"/>
<line x1="421.38" y1="193.60" x2="421.38" y2="191.60" stroke="#333" stroke-width="1"/>
<line x1="321.60" y1="113.40" x2="323.60" y2="113.40" stroke="#333" stroke-width="1"/>
<line x1="435.22" y1="193.60" x2="435.22" y2="191.60" stroke="#333" stroke-width="1"/>
<line x1="321.60" y1="102.28" x2="323.60" y2="102.28" stroke="#333" stroke-width="1"/>
<line x1="446.52" y1="193.60" x2="446.52" y2="191.60" stroke="#333" stroke-width="1"/>
<line x1="321.60" y1="93.20" x2="323.60" y2="93.20" stroke="#333" stroke-width="1"/>
<line x1="456.08" y1="193.60" x2="456.08" y2="191.60" stroke="#333" stroke-width="1"/>
<line x1="321.60" y1="85.52" x2="323.60" y2="85.52" stroke="#333" stroke-width="1"/>
<line x1="464.35" y1="193.60" x2="464.35" y2="191.60" stroke="#333" stroke-width="1"/>
<line x1="321.60" y1="78.86" x2="323.60" y2="78.86" stroke="#333" stroke-width="1"/>
<line x1="471.66" y1="193.60" x2="471.66" y2="191.60" stroke="#333" stroke-width="1"/>
<line x1="321.60" y1="72.99" x2="323.60" y2="72.99" stroke="#333" stroke-width="1"/>
<line x1="478.19" y1="193.60" x2="478.19" y2="190.10" stroke="#333" stroke-width="1"/>
<line x1="321.60" y1="67.74" x2="325.10" y2="67.74" stroke="#333" stroke-width="1"/>
<line x1="521.16" y1="193.60" x2="521.16" y2="191.60" stroke="#333" stroke-width="1"/>
<line x1="321.60" y1="33.20" x2="323.60" y2="33.20" stroke="#333" stroke-width="1"/>
<line x1="521.16" y1="193.60" x2="521.16" y2="191.60" stroke="#333" stroke-width="1"/>
<line x1="321.60" y1="33.20" x2="323.60" y2="33.20" stroke="#333" stroke-width="1"/>
<text x="336.03" y="206.50" font-size="9.8" font-family="Liberation Serif, serif" fill="#111" text-anchor="middle">10<tspan font-size="6" dy="-4.1">&#8211;1</tspan></text>
<text x="318.30" y="186.28" font-size="9.8" font-family="Liberation Serif, serif" fill="#111" text-anchor="end">10<tspan font-size="6" dy="-4.1">&#8211;1</tspan></text>
<text x="478.79" y="206.50" font-size="9.8" font-family="Liberation Serif, serif" fill="#111" text-anchor="middle">10<tspan font-size="6" dy="-4.1">0</tspan></text>
<text x="318.30" y="71.54" font-size="9.8" font-family="Liberation Serif, serif" fill="#111" text-anchor="end">10<tspan font-size="6" dy="-4.1">0</tspan></text>
<text x="290.92" y="15.50" font-size="12" font-family="Liberation Serif, serif" fill="#111">(b)</text>
<text x="545.08" y="11.38" font-size="9.9" font-family="Liberation Serif, serif" fill="#111" text-anchor="end">+5°</text>
<text x="433.95" y="223.56" font-size="11.8" font-family="Liberation Serif, serif" fill="#111" text-anchor="middle">Uso (m/s)</text>
<text x="0" y="0" font-size="11.8" font-family="Liberation Serif, serif" fill="#111" text-anchor="middle" transform="translate(296.94,103.22) rotate(-90)">Usw (m/s)</text>
<path d="M55.90,318.30 C57.72,318.35 63.32,318.45 66.80,318.60 C70.28,318.75 72.85,318.73 76.80,319.20 C80.75,319.67 85.80,320.43 90.50,321.40 C95.20,322.37 100.47,323.65 105.00,325.00 C109.53,326.35 114.03,328.08 117.70,329.50 C121.37,330.92 124.12,332.32 127.00,333.50 C129.88,334.68 132.22,335.43 135.00,336.60 C137.78,337.77 140.78,338.83 143.70,340.50 C146.62,342.17 149.58,343.98 152.50,346.60 C155.42,349.22 158.00,352.42 161.20,356.20 C164.40,359.98 168.93,365.17 171.70,369.30 C174.47,373.43 175.98,376.92 177.80,381.00 C179.62,385.08 181.37,389.38 182.60,393.80 C183.83,398.22 184.77,405.22 185.20,407.50" fill="none" stroke="#7070f5" stroke-width="1.1"/>
<path d="M76.50,319.20 C78.75,318.10 85.25,314.97 90.00,312.60 C94.75,310.23 100.00,307.72 105.00,305.00 C110.00,302.28 114.17,299.92 120.00,296.30 C125.83,292.68 133.67,287.52 140.00,283.30 C146.33,279.08 151.90,275.15 158.00,271.00 C164.10,266.85 173.50,260.50 176.60,258.40" fill="none" stroke="#7070f5" stroke-width="1.1"/>
<path d="M119.50,296.80 C121.25,297.03 126.58,297.82 130.00,298.20 C133.42,298.58 136.82,298.65 140.00,299.10 C143.18,299.55 146.07,300.30 149.10,300.90 C152.13,301.50 155.17,302.10 158.20,302.70 C161.23,303.30 164.27,303.73 167.30,304.50 C170.33,305.27 173.37,306.38 176.40,307.30 C179.43,308.22 182.48,308.95 185.50,310.00 C188.52,311.05 191.48,312.23 194.50,313.60 C197.52,314.97 200.57,316.68 203.60,318.20 C206.63,319.72 210.27,321.33 212.70,322.70 C215.13,324.07 217.28,325.78 218.20,326.40" fill="none" stroke="#7070f5" stroke-width="1.1" stroke-dasharray="2.6,1.7"/>
<path d="M184.80,396.70 C186.17,394.57 189.98,388.97 193.00,383.90 C196.02,378.83 199.95,371.87 202.90,366.30 C205.85,360.73 208.52,355.25 210.70,350.50 C212.88,345.75 214.37,341.92 216.00,337.80 C217.63,333.68 218.80,330.42 220.50,325.80 C222.20,321.18 224.17,315.33 226.20,310.10 C228.23,304.87 231.15,298.43 232.70,294.40 C234.25,290.37 235.03,287.32 235.50,285.90" fill="none" stroke="#7070f5" stroke-width="1.1"/>
<path d="M50.40,365.60 C53.58,365.97 63.58,366.83 69.50,367.80 C75.42,368.77 80.98,369.98 85.90,371.40 C90.82,372.82 95.18,374.40 99.00,376.30 C102.82,378.20 105.80,380.35 108.80,382.80 C111.80,385.25 114.53,387.72 117.00,391.00 C119.47,394.28 121.97,398.95 123.60,402.50 C125.23,406.05 126.27,410.67 126.80,412.30" fill="none" stroke="#7070f5" stroke-width="1.1"/>
<path d="M53.02,266.49 L59.62,270.19 L53.02,273.89Z" fill="#10b020"/><path d="M53.62,267.52 L58.40,270.19 L58.40,270.19 L53.62,270.19Z" fill="#fff"/>
<path d="M79.28,266.49 L85.88,270.19 L79.28,273.89Z" fill="#10b020"/><path d="M79.88,267.52 L84.65,270.19 L84.65,270.19 L79.88,270.19Z" fill="#fff"/>
<path d="M103.02,266.49 L109.62,270.19 L103.02,273.89Z" fill="#10b020"/><path d="M103.62,267.52 L108.39,270.19 L108.39,270.19 L103.62,270.19Z" fill="#fff"/>
<path d="M130.38,266.49 L136.98,270.19 L130.38,273.89Z" fill="#10b020"/><path d="M130.98,267.52 L135.75,270.19 L135.75,270.19 L130.98,270.19Z" fill="#fff"/>
<path d="M156.03,266.49 L162.63,270.19 L156.03,273.89Z" fill="#10b020"/><path d="M156.63,267.52 L161.41,270.19 L161.41,270.19 L156.63,270.19Z" fill="#fff"/>
<circle cx="190.01" cy="270.19" r="3.20" fill="#1464ff"/><path d="M187.42,269.89 A2.60,2.60 0 0 1 192.59,269.89Z" fill="#fff"/>
<circle cx="219.52" cy="270.19" r="3.20" fill="#1464ff"/><path d="M216.94,269.89 A2.60,2.60 0 0 1 222.11,269.89Z" fill="#fff"/>
<circle cx="233.33" cy="270.19" r="3.20" fill="#1464ff"/><path d="M230.75,269.89 A2.60,2.60 0 0 1 235.91,269.89Z" fill="#fff"/>
<path d="M55.72,287.10 L59.57,290.95 L55.72,294.80 L51.87,290.95Z" fill="#ff8010"/><path d="M55.72,288.30 L58.27,290.85 L53.17,290.85Z" fill="#fff"/>
<path d="M81.98,287.10 L85.83,290.95 L81.98,294.80 L78.13,290.95Z" fill="#ff8010"/><path d="M81.98,288.30 L84.52,290.85 L79.43,290.85Z" fill="#fff"/>
<path d="M105.72,287.10 L109.57,290.95 L105.72,294.80 L101.87,290.95Z" fill="#ff8010"/><path d="M105.72,288.30 L108.27,290.85 L103.17,290.85Z" fill="#fff"/>
<circle cx="133.08" cy="290.95" r="3.20" fill="#1464ff"/><path d="M130.50,290.65 A2.60,2.60 0 0 1 135.66,290.65Z" fill="#fff"/>
<circle cx="158.73" cy="290.95" r="3.20" fill="#1464ff"/><path d="M156.15,290.65 A2.60,2.60 0 0 1 161.32,290.65Z" fill="#fff"/>
<circle cx="190.01" cy="290.95" r="3.20" fill="#1464ff"/><path d="M187.42,290.65 A2.60,2.60 0 0 1 192.59,290.65Z" fill="#fff"/>
<circle cx="219.52" cy="290.95" r="3.20" fill="#1464ff"/><path d="M216.94,290.65 A2.60,2.60 0 0 1 222.11,290.65Z" fill="#fff"/>
<circle cx="233.33" cy="290.95" r="3.20" fill="#1464ff"/><path d="M230.75,290.65 A2.60,2.60 0 0 1 235.91,290.65Z" fill="#fff"/>
<path d="M55.72,307.55 L59.57,311.40 L55.72,315.25 L51.87,311.40Z" fill="#ff8010"/><path d="M55.72,308.75 L58.27,311.30 L53.17,311.30Z" fill="#fff"/>
<path d="M81.98,307.55 L85.83,311.40 L81.98,315.25 L78.13,311.40Z" fill="#ff8010"/><path d="M81.98,308.75 L84.52,311.30 L79.43,311.30Z" fill="#fff"/>
<circle cx="105.72" cy="311.40" r="3.20" fill="#14c4d0"/><path d="M103.14,311.10 A2.60,2.60 0 0 1 108.30,311.10Z" fill="#fff"/>
<circle cx="133.08" cy="311.40" r="3.20" fill="#14c4d0"/><path d="M130.50,311.10 A2.60,2.60 0 0 1 135.66,311.10Z" fill="#fff"/>
<circle cx="158.73" cy="311.40" r="3.20" fill="#14c4d0"/><path d="M156.15,311.10 A2.60,2.60 0 0 1 161.32,311.10Z" fill="#fff"/>
<circle cx="190.01" cy="311.40" r="3.20" fill="#1464ff"/><path d="M187.42,311.10 A2.60,2.60 0 0 1 192.59,311.10Z" fill="#fff"/>
<circle cx="219.52" cy="311.40" r="3.20" fill="#1464ff"/><path d="M216.94,311.10 A2.60,2.60 0 0 1 222.11,311.10Z" fill="#fff"/>
<path d="M235.33,308.00 L235.33,314.80 L229.43,311.40Z" fill="#727a30"/><path d="M234.78,308.95 L234.78,311.20 L230.88,311.20Z" fill="#fff"/>
<path d="M55.72,321.32 L59.17,327.92 L52.27,327.92Z" fill="#8a4cbf"/><path d="M55.72,322.66 L57.11,325.32 L54.33,325.32Z" fill="#fff"/>
<path d="M81.98,321.32 L85.43,327.92 L78.53,327.92Z" fill="#8a4cbf"/><path d="M81.98,322.66 L83.37,325.32 L80.59,325.32Z" fill="#fff"/>
<path d="M105.72,321.32 L109.17,327.92 L102.27,327.92Z" fill="#8a4cbf"/><path d="M105.72,322.66 L107.11,325.32 L104.33,325.32Z" fill="#fff"/>
<path d="M133.08,321.32 L136.53,327.92 L129.63,327.92Z" fill="#8a4cbf"/><path d="M133.08,322.66 L134.47,325.32 L131.69,325.32Z" fill="#fff"/>
<circle cx="158.73" cy="325.42" r="3.20" fill="#14c4d0"/><path d="M156.15,325.12 A2.60,2.60 0 0 1 161.32,325.12Z" fill="#fff"/>
<circle cx="190.01" cy="325.42" r="3.20" fill="#14c4d0"/><path d="M187.42,325.12 A2.60,2.60 0 0 1 192.59,325.12Z" fill="#fff"/>
<path d="M221.52,322.02 L221.52,328.82 L215.62,325.42Z" fill="#727a30"/><path d="M220.97,322.97 L220.97,325.22 L217.07,325.22Z" fill="#fff"/>
<path d="M235.33,322.02 L235.33,328.82 L229.43,325.42Z" fill="#727a30"/><path d="M234.78,322.97 L234.78,325.22 L230.88,325.22Z" fill="#fff"/>
<path d="M55.72,342.17 L59.17,348.77 L52.27,348.77Z" fill="#8a4cbf"/><path d="M55.72,343.51 L57.11,346.17 L54.33,346.17Z" fill="#fff"/>
<path d="M81.98,342.17 L85.43,348.77 L78.53,348.77Z" fill="#8a4cbf"/><path d="M81.98,343.51 L83.37,346.17 L80.59,346.17Z" fill="#fff"/>
<path d="M105.72,342.17 L109.17,348.77 L102.27,348.77Z" fill="#8a4cbf"/><path d="M105.72,343.51 L107.11,346.17 L104.33,346.17Z" fill="#fff"/>
<path d="M133.08,342.17 L136.53,348.77 L129.63,348.77Z" fill="#8a4cbf"/><path d="M133.08,343.51 L134.47,346.17 L131.69,346.17Z" fill="#fff"/>
<circle cx="158.73" cy="346.27" r="3.20" fill="#14c4d0"/><path d="M156.15,345.97 A2.60,2.60 0 0 1 161.32,345.97Z" fill="#fff"/>
<circle cx="190.01" cy="346.27" r="3.20" fill="#14c4d0"/><path d="M187.42,345.97 A2.60,2.60 0 0 1 192.59,345.97Z" fill="#fff"/>
<path d="M221.52,342.87 L221.52,349.67 L215.62,346.27Z" fill="#727a30"/><path d="M220.97,343.82 L220.97,346.07 L217.07,346.07Z" fill="#fff"/>
<path d="M235.33,342.87 L235.33,349.67 L229.43,346.27Z" fill="#727a30"/><path d="M234.78,343.82 L234.78,346.07 L230.88,346.07Z" fill="#fff"/>
<path d="M55.72,353.08 L59.17,359.68 L52.27,359.68Z" fill="#8a4cbf"/><path d="M55.72,354.41 L57.11,357.08 L54.33,357.08Z" fill="#fff"/>
<path d="M81.98,353.08 L85.43,359.68 L78.53,359.68Z" fill="#8a4cbf"/><path d="M81.98,354.41 L83.37,357.08 L80.59,357.08Z" fill="#fff"/>
<path d="M105.72,353.08 L109.17,359.68 L102.27,359.68Z" fill="#8a4cbf"/><path d="M105.72,354.41 L107.11,357.08 L104.33,357.08Z" fill="#fff"/>
<path d="M133.08,353.08 L136.53,359.68 L129.63,359.68Z" fill="#8a4cbf"/><path d="M133.08,354.41 L134.47,357.08 L131.69,357.08Z" fill="#fff"/>
<path d="M158.73,353.08 L162.18,359.68 L155.28,359.68Z" fill="#8a4cbf"/><path d="M158.73,354.41 L160.12,357.08 L157.34,357.08Z" fill="#fff"/>
<circle cx="190.01" cy="357.18" r="3.20" fill="#14c4d0"/><path d="M187.42,356.88 A2.60,2.60 0 0 1 192.59,356.88Z" fill="#fff"/>
<path d="M221.52,353.78 L221.52,360.58 L215.62,357.18Z" fill="#727a30"/><path d="M220.97,354.73 L220.97,356.98 L217.07,356.98Z" fill="#fff"/>
<path d="M235.33,353.78 L235.33,360.58 L229.43,357.18Z" fill="#727a30"/><path d="M234.78,354.73 L234.78,356.98 L230.88,356.98Z" fill="#fff"/>
<path d="M52.82,377.94 L58.62,377.94 L58.62,383.74 L52.82,383.74Z" fill="#ff3cf0"/><path d="M53.42,378.54 L58.02,378.54 L58.02,380.64 L53.42,380.64Z" fill="#fff"/>
<path d="M79.08,377.94 L84.88,377.94 L84.88,383.74 L79.08,383.74Z" fill="#ff3cf0"/><path d="M79.68,378.54 L84.28,378.54 L84.28,380.64 L79.68,380.64Z" fill="#fff"/>
<path d="M102.82,377.94 L108.62,377.94 L108.62,383.74 L102.82,383.74Z" fill="#ff3cf0"/><path d="M103.42,378.54 L108.02,378.54 L108.02,380.64 L103.42,380.64Z" fill="#fff"/>
<path d="M133.08,376.74 L136.53,383.34 L129.63,383.34Z" fill="#8a4cbf"/><path d="M133.08,378.08 L134.47,380.74 L131.69,380.74Z" fill="#fff"/>
<path d="M158.73,376.74 L162.18,383.34 L155.28,383.34Z" fill="#8a4cbf"/><path d="M158.73,378.08 L160.12,380.74 L157.34,380.74Z" fill="#fff"/>
<circle cx="190.01" cy="380.84" r="3.20" fill="#14c4d0"/><path d="M187.42,380.54 A2.60,2.60 0 0 1 192.59,380.54Z" fill="#fff"/>
<path d="M221.52,377.44 L221.52,384.24 L215.62,380.84Z" fill="#727a30"/><path d="M220.97,378.39 L220.97,380.64 L217.07,380.64Z" fill="#fff"/>
<path d="M235.33,377.44 L235.33,384.24 L229.43,380.84Z" fill="#727a30"/><path d="M234.78,378.39 L234.78,380.64 L230.88,380.64Z" fill="#fff"/>
<path d="M52.82,403.17 L58.62,403.17 L58.62,408.97 L52.82,408.97Z" fill="#ff3cf0"/><path d="M53.42,403.77 L58.02,403.77 L58.02,405.87 L53.42,405.87Z" fill="#fff"/>
<path d="M79.08,403.17 L84.88,403.17 L84.88,408.97 L79.08,408.97Z" fill="#ff3cf0"/><path d="M79.68,403.77 L84.28,403.77 L84.28,405.87 L79.68,405.87Z" fill="#fff"/>
<path d="M102.82,403.17 L108.62,403.17 L108.62,408.97 L102.82,408.97Z" fill="#ff3cf0"/><path d="M103.42,403.77 L108.02,403.77 L108.02,405.87 L103.42,405.87Z" fill="#fff"/>
<path d="M133.08,401.97 L136.53,408.57 L129.63,408.57Z" fill="#8a4cbf"/><path d="M133.08,403.31 L134.47,405.97 L131.69,405.97Z" fill="#fff"/>
<path d="M158.73,401.97 L162.18,408.57 L155.28,408.57Z" fill="#8a4cbf"/><path d="M158.73,403.31 L160.12,405.97 L157.34,405.97Z" fill="#fff"/>
<path d="M192.01,402.67 L192.01,409.47 L186.11,406.07Z" fill="#727a30"/><path d="M191.46,403.62 L191.46,405.87 L187.56,405.87Z" fill="#fff"/>
<path d="M221.52,402.67 L221.52,409.47 L215.62,406.07Z" fill="#727a30"/><path d="M220.97,403.62 L220.97,405.87 L217.07,405.87Z" fill="#fff"/>
<path d="M235.33,402.67 L235.33,409.47 L229.43,406.07Z" fill="#727a30"/><path d="M234.78,403.62 L234.78,405.87 L230.88,405.87Z" fill="#fff"/>
<path d="M48.95,245.19 L54.75,245.19 L54.75,250.99 L48.95,250.99Z" fill="#ff3cf0"/><path d="M49.55,245.79 L54.15,245.79 L54.15,247.89 L49.55,247.89Z" fill="#fff"/>
<text x="63.20" y="251.09" font-size="8.5" font-family="Liberation Serif, serif" fill="#111">ST</text>
<path d="M82.78,243.99 L86.23,250.59 L79.33,250.59Z" fill="#8a4cbf"/><path d="M82.78,245.32 L84.17,247.99 L81.38,247.99Z" fill="#fff"/>
<text x="94.12" y="251.09" font-size="8.5" font-family="Liberation Serif, serif" fill="#111">ST&amp;MI</text>
<path d="M131.27,244.24 L135.12,248.09 L131.27,251.94 L127.42,248.09Z" fill="#ff8010"/><path d="M131.27,245.44 L133.82,247.99 L128.72,247.99Z" fill="#fff"/>
<text x="142.61" y="251.09" font-size="8.5" font-family="Liberation Serif, serif" fill="#111">D OS&amp;W</text>
<circle cx="186.99" cy="248.09" r="3.20" fill="#14c4d0"/><path d="M184.41,247.79 A2.60,2.60 0 0 1 189.57,247.79Z" fill="#fff"/>
<text x="198.24" y="251.09" font-size="8.5" font-family="Liberation Serif, serif" fill="#111">D W/O&amp;D O/W</text>
<circle cx="51.85" cy="258.94" r="3.20" fill="#1464ff"/><path d="M49.27,258.64 A2.60,2.60 0 0 1 54.43,258.64Z" fill="#fff"/>
<text x="63.20" y="261.94" font-size="8.5" font-family="Liberation Serif, serif" fill="#111">D W/O&amp;D O/W WF</text>
<path d="M141.92,255.24 L148.52,258.94 L141.92,262.64Z" fill="#10b020"/><path d="M142.52,256.26 L147.29,258.94 L147.29,258.94 L142.52,258.94Z" fill="#fff"/>
<text x="156.37" y="261.94" font-size="8.5" font-family="Liberation Serif, serif" fill="#111">D O/W</text>
<path d="M192.00,255.54 L192.00,262.34 L186.10,258.94Z" fill="#727a30"/><path d="M191.45,256.49 L191.45,258.74 L187.55,258.74Z" fill="#fff"/>
<text x="202.35" y="261.94" font-size="8.5" font-family="Liberation Serif, serif" fill="#111">D W/O</text>
<rect x="37.60" y="240.60" width="225.9" height="181.6" fill="none" stroke="#5a5a5a" stroke-width="1.6"/>
<line x1="44.94" y1="422.20" x2="44.94" y2="420.20" stroke="#333" stroke-width="1"/>
<line x1="37.60" y1="416.30" x2="39.60" y2="416.30" stroke="#333" stroke-width="1"/>
<line x1="51.51" y1="422.20" x2="51.51" y2="418.70" stroke="#333" stroke-width="1"/>
<line x1="37.60" y1="411.02" x2="41.10" y2="411.02" stroke="#333" stroke-width="1"/>
<line x1="94.71" y1="422.20" x2="94.71" y2="420.20" stroke="#333" stroke-width="1"/>
<line x1="37.60" y1="376.29" x2="39.60" y2="376.29" stroke="#333" stroke-width="1"/>
<line x1="119.98" y1="422.20" x2="119.98" y2="420.20" stroke="#333" stroke-width="1"/>
<line x1="37.60" y1="355.97" x2="39.60" y2="355.97" stroke="#333" stroke-width="1"/>
<line x1="137.91" y1="422.20" x2="137.91" y2="420.20" stroke="#333" stroke-width="1"/>
<line x1="37.60" y1="341.56" x2="39.60" y2="341.56" stroke="#333" stroke-width="1"/>
<line x1="151.82" y1="422.20" x2="151.82" y2="420.20" stroke="#333" stroke-width="1"/>
<line x1="37.60" y1="330.38" x2="39.60" y2="330.38" stroke="#333" stroke-width="1"/>
<line x1="163.19" y1="422.20" x2="163.19" y2="420.20" stroke="#333" stroke-width="1"/>
<line x1="37.60" y1="321.24" x2="39.60" y2="321.24" stroke="#333" stroke-width="1"/>
<line x1="172.79" y1="422.20" x2="172.79" y2="420.20" stroke="#333" stroke-width="1"/>
<line x1="37.60" y1="313.52" x2="39.60" y2="313.52" stroke="#333" stroke-width="1"/>
<line x1="181.12" y1="422.20" x2="181.12" y2="420.20" stroke="#333" stroke-width="1"/>
<line x1="37.60" y1="306.83" x2="39.60" y2="306.83" stroke="#333" stroke-width="1"/>
<line x1="188.46" y1="422.20" x2="188.46" y2="420.20" stroke="#333" stroke-width="1"/>
<line x1="37.60" y1="300.93" x2="39.60" y2="300.93" stroke="#333" stroke-width="1"/>
<line x1="195.03" y1="422.20" x2="195.03" y2="418.70" stroke="#333" stroke-width="1"/>
<line x1="37.60" y1="295.65" x2="41.10" y2="295.65" stroke="#333" stroke-width="1"/>
<line x1="238.23" y1="422.20" x2="238.23" y2="420.20" stroke="#333" stroke-width="1"/>
<line x1="37.60" y1="260.92" x2="39.60" y2="260.92" stroke="#333" stroke-width="1"/>
<line x1="238.23" y1="422.20" x2="238.23" y2="420.20" stroke="#333" stroke-width="1"/>
<line x1="37.60" y1="260.92" x2="39.60" y2="260.92" stroke="#333" stroke-width="1"/>
<text x="52.11" y="435.10" font-size="9.8" font-family="Liberation Serif, serif" fill="#111" text-anchor="middle">10<tspan font-size="6" dy="-4.1">&#8211;1</tspan></text>
<text x="34.30" y="414.82" font-size="9.8" font-family="Liberation Serif, serif" fill="#111" text-anchor="end">10<tspan font-size="6" dy="-4.1">&#8211;1</tspan></text>
<text x="195.63" y="435.10" font-size="9.8" font-family="Liberation Serif, serif" fill="#111" text-anchor="middle">10<tspan font-size="6" dy="-4.1">0</tspan></text>
<text x="34.30" y="299.45" font-size="9.8" font-family="Liberation Serif, serif" fill="#111" text-anchor="end">10<tspan font-size="6" dy="-4.1">0</tspan></text>
<text x="8.50" y="243.48" font-size="12" font-family="Liberation Serif, serif" fill="#111" font-weight="bold">(c)</text>
<text x="262.24" y="239.44" font-size="9.9" font-family="Liberation Serif, serif" fill="#111" text-anchor="end">+10°</text>
<text x="150.83" y="452.40" font-size="11.8" font-family="Liberation Serif, serif" fill="#111" text-anchor="middle">Uso (m/s)</text>
<text x="0" y="0" font-size="11.8" font-family="Liberation Serif, serif" fill="#111" text-anchor="middle" transform="translate(12.14,331.06) rotate(-90)">Usw (m/s)</text>
<path d="M333.50,335.60 C334.55,334.77 337.12,332.42 339.80,330.60 C342.48,328.78 346.32,326.50 349.60,324.70 C352.88,322.90 356.22,321.20 359.50,319.80 C362.78,318.40 366.03,317.28 369.30,316.30 C372.57,315.32 375.83,314.55 379.10,313.90 C382.37,313.25 385.40,313.00 388.90,312.40 C392.40,311.80 395.90,311.72 400.10,310.30 C404.30,308.88 409.33,306.45 414.10,303.90 C418.87,301.35 424.47,297.97 428.70,295.00 C432.93,292.03 436.22,289.07 439.50,286.10 C442.78,283.13 444.78,280.80 448.40,277.20 C452.02,273.60 459.07,266.62 461.20,264.50" fill="none" stroke="#7070f5" stroke-width="1.1"/>
<path d="M400.10,310.30 C402.22,310.92 409.32,312.63 412.80,314.00 C416.28,315.37 418.47,316.92 421.00,318.50 C423.53,320.08 425.70,321.48 428.00,323.50 C430.30,325.52 432.85,327.88 434.80,330.60 C436.75,333.32 438.07,336.63 439.70,339.80 C441.33,342.97 442.95,345.67 444.60,349.60 C446.25,353.53 448.12,358.80 449.60,363.40 C451.08,368.00 452.52,372.95 453.50,377.20 C454.48,381.45 454.95,383.67 455.50,388.90 C456.05,394.13 456.58,405.32 456.80,408.60" fill="none" stroke="#7070f5" stroke-width="1.1"/>
<path d="M429.50,295.50 C431.37,295.97 436.87,297.30 440.70,298.30 C444.53,299.30 448.88,300.47 452.50,301.50 C456.12,302.53 458.47,302.93 462.40,304.50 C466.33,306.07 472.18,309.02 476.10,310.90 C480.02,312.78 482.95,314.17 485.90,315.80 C488.85,317.43 492.48,319.88 493.80,320.70" fill="none" stroke="#7070f5" stroke-width="1.1" stroke-dasharray="2.6,1.7"/>
<path d="M454.50,382.10 C455.75,380.83 459.50,377.27 462.00,374.50 C464.50,371.73 467.17,368.67 469.50,365.50 C471.83,362.33 474.03,358.93 476.00,355.50 C477.97,352.07 479.72,348.23 481.30,344.90 C482.88,341.57 484.27,338.45 485.50,335.50 C486.73,332.55 487.53,330.12 488.70,327.20 C489.87,324.28 491.28,320.87 492.50,318.00 C493.72,315.13 494.42,312.40 496.00,310.00 C497.58,307.60 499.53,305.90 502.00,303.60 C504.47,301.30 507.33,298.67 510.80,296.20 C514.27,293.73 520.80,290.03 522.80,288.80" fill="none" stroke="#7070f5" stroke-width="1.1"/>
<path d="M340.60,370.10 C342.92,370.47 350.77,371.52 354.50,372.30 C358.23,373.08 360.27,373.82 363.00,374.80 C365.73,375.78 368.40,376.95 370.90,378.20 C373.40,379.45 375.82,380.83 378.00,382.30 C380.18,383.77 382.00,385.35 384.00,387.00 C386.00,388.65 388.08,390.43 390.00,392.20 C391.92,393.97 393.50,395.53 395.50,397.60 C397.50,399.67 399.68,402.08 402.00,404.60 C404.32,407.12 408.17,411.35 409.40,412.70" fill="none" stroke="#7070f5" stroke-width="1.1"/>
<path d="M336.67,267.50 L343.27,271.20 L336.67,274.90Z" fill="#10b020"/><path d="M337.27,268.53 L342.04,271.20 L342.04,271.20 L337.27,271.20Z" fill="#fff"/>
<path d="M362.70,267.50 L369.30,271.20 L362.70,274.90Z" fill="#10b020"/><path d="M363.30,268.53 L368.08,271.20 L368.08,271.20 L363.30,271.20Z" fill="#fff"/>
<path d="M386.25,267.50 L392.85,271.20 L386.25,274.90Z" fill="#10b020"/><path d="M386.85,268.53 L391.62,271.20 L391.62,271.20 L386.85,271.20Z" fill="#fff"/>
<path d="M413.38,267.50 L419.98,271.20 L413.38,274.90Z" fill="#10b020"/><path d="M413.98,268.53 L418.75,271.20 L418.75,271.20 L413.98,271.20Z" fill="#fff"/>
<path d="M438.81,267.50 L445.41,271.20 L438.81,274.90Z" fill="#10b020"/><path d="M439.41,268.53 L444.19,271.20 L444.19,271.20 L439.41,271.20Z" fill="#fff"/>
<circle cx="472.53" cy="271.20" r="3.20" fill="#1464ff"/><path d="M469.94,270.90 A2.60,2.60 0 0 1 475.11,270.90Z" fill="#fff"/>
<circle cx="501.79" cy="271.20" r="3.20" fill="#1464ff"/><path d="M499.21,270.90 A2.60,2.60 0 0 1 504.38,270.90Z" fill="#fff"/>
<circle cx="515.48" cy="271.20" r="3.20" fill="#1464ff"/><path d="M512.90,270.90 A2.60,2.60 0 0 1 518.07,270.90Z" fill="#fff"/>
<path d="M339.37,287.97 L343.22,291.82 L339.37,295.67 L335.52,291.82Z" fill="#ff8010"/><path d="M339.37,289.17 L341.92,291.72 L336.82,291.72Z" fill="#fff"/>
<path d="M365.40,287.97 L369.25,291.82 L365.40,295.67 L361.55,291.82Z" fill="#ff8010"/><path d="M365.40,289.17 L367.95,291.72 L362.86,291.72Z" fill="#fff"/>
<path d="M388.95,287.97 L392.80,291.82 L388.95,295.67 L385.10,291.82Z" fill="#ff8010"/><path d="M388.95,289.17 L391.50,291.72 L386.40,291.72Z" fill="#fff"/>
<path d="M416.08,287.97 L419.93,291.82 L416.08,295.67 L412.23,291.82Z" fill="#ff8010"/><path d="M416.08,289.17 L418.63,291.72 L413.53,291.72Z" fill="#fff"/>
<circle cx="441.51" cy="291.82" r="3.20" fill="#1464ff"/><path d="M438.93,291.52 A2.60,2.60 0 0 1 444.10,291.52Z" fill="#fff"/>
<circle cx="472.53" cy="291.82" r="3.20" fill="#1464ff"/><path d="M469.94,291.52 A2.60,2.60 0 0 1 475.11,291.52Z" fill="#fff"/>
<circle cx="501.79" cy="291.82" r="3.20" fill="#1464ff"/><path d="M499.21,291.52 A2.60,2.60 0 0 1 504.38,291.52Z" fill="#fff"/>
<circle cx="515.48" cy="291.82" r="3.20" fill="#1464ff"/><path d="M512.90,291.52 A2.60,2.60 0 0 1 518.07,291.52Z" fill="#fff"/>
<path d="M339.37,308.28 L343.22,312.13 L339.37,315.98 L335.52,312.13Z" fill="#ff8010"/><path d="M339.37,309.49 L341.92,312.03 L336.82,312.03Z" fill="#fff"/>
<path d="M365.40,308.28 L369.25,312.13 L365.40,315.98 L361.55,312.13Z" fill="#ff8010"/><path d="M365.40,309.49 L367.95,312.03 L362.86,312.03Z" fill="#fff"/>
<path d="M388.95,308.28 L392.80,312.13 L388.95,315.98 L385.10,312.13Z" fill="#ff8010"/><path d="M388.95,309.49 L391.50,312.03 L386.40,312.03Z" fill="#fff"/>
<circle cx="416.08" cy="312.13" r="3.20" fill="#14c4d0"/><path d="M413.49,311.83 A2.60,2.60 0 0 1 418.66,311.83Z" fill="#fff"/>
<circle cx="441.51" cy="312.13" r="3.20" fill="#14c4d0"/><path d="M438.93,311.83 A2.60,2.60 0 0 1 444.10,311.83Z" fill="#fff"/>
<circle cx="472.53" cy="312.13" r="3.20" fill="#1464ff"/><path d="M469.94,311.83 A2.60,2.60 0 0 1 475.11,311.83Z" fill="#fff"/>
<path d="M503.79,308.73 L503.79,315.53 L497.89,312.13Z" fill="#727a30"/><path d="M503.24,309.69 L503.24,311.93 L499.34,311.93Z" fill="#fff"/>
<path d="M517.48,308.73 L517.48,315.53 L511.58,312.13Z" fill="#727a30"/><path d="M516.93,309.69 L516.93,311.93 L513.03,311.93Z" fill="#fff"/>
<path d="M339.37,322.21 L343.22,326.06 L339.37,329.91 L335.52,326.06Z" fill="#ff8010"/><path d="M339.37,323.41 L341.92,325.96 L336.82,325.96Z" fill="#fff"/>
<path d="M365.40,321.96 L368.85,328.56 L361.95,328.56Z" fill="#8a4cbf"/><path d="M365.40,323.30 L366.79,325.96 L364.01,325.96Z" fill="#fff"/>
<path d="M388.95,321.96 L392.40,328.56 L385.50,328.56Z" fill="#8a4cbf"/><path d="M388.95,323.30 L390.34,325.96 L387.56,325.96Z" fill="#fff"/>
<path d="M416.08,321.96 L419.53,328.56 L412.63,328.56Z" fill="#8a4cbf"/><path d="M416.08,323.30 L417.47,325.96 L414.69,325.96Z" fill="#fff"/>
<circle cx="441.51" cy="326.06" r="3.20" fill="#14c4d0"/><path d="M438.93,325.76 A2.60,2.60 0 0 1 444.10,325.76Z" fill="#fff"/>
<circle cx="472.53" cy="326.06" r="3.20" fill="#14c4d0"/><path d="M469.94,325.76 A2.60,2.60 0 0 1 475.11,325.76Z" fill="#fff"/>
<path d="M503.79,322.66 L503.79,329.46 L497.89,326.06Z" fill="#727a30"/><path d="M503.24,323.61 L503.24,325.86 L499.34,325.86Z" fill="#fff"/>
<path d="M517.48,322.66 L517.48,329.46 L511.58,326.06Z" fill="#727a30"/><path d="M516.93,323.61 L516.93,325.86 L513.03,325.86Z" fill="#fff"/>
<path d="M339.37,342.68 L342.82,349.28 L335.92,349.28Z" fill="#8a4cbf"/><path d="M339.37,344.01 L340.76,346.68 L337.98,346.68Z" fill="#fff"/>
<path d="M365.40,342.68 L368.85,349.28 L361.95,349.28Z" fill="#8a4cbf"/><path d="M365.40,344.01 L366.79,346.68 L364.01,346.68Z" fill="#fff"/>
<path d="M388.95,342.68 L392.40,349.28 L385.50,349.28Z" fill="#8a4cbf"/><path d="M388.95,344.01 L390.34,346.68 L387.56,346.68Z" fill="#fff"/>
<path d="M416.08,342.68 L419.53,349.28 L412.63,349.28Z" fill="#8a4cbf"/><path d="M416.08,344.01 L417.47,346.68 L414.69,346.68Z" fill="#fff"/>
<circle cx="441.51" cy="346.78" r="3.20" fill="#14c4d0"/><path d="M438.93,346.48 A2.60,2.60 0 0 1 444.10,346.48Z" fill="#fff"/>
<circle cx="472.53" cy="346.78" r="3.20" fill="#14c4d0"/><path d="M469.94,346.48 A2.60,2.60 0 0 1 475.11,346.48Z" fill="#fff"/>
<path d="M503.79,343.38 L503.79,350.18 L497.89,346.78Z" fill="#727a30"/><path d="M503.24,344.33 L503.24,346.58 L499.34,346.58Z" fill="#fff"/>
<path d="M517.48,343.38 L517.48,350.18 L511.58,346.78Z" fill="#727a30"/><path d="M516.93,344.33 L516.93,346.58 L513.03,346.58Z" fill="#fff"/>
<path d="M339.37,353.51 L342.82,360.11 L335.92,360.11Z" fill="#8a4cbf"/><path d="M339.37,354.85 L340.76,357.51 L337.98,357.51Z" fill="#fff"/>
<path d="M365.40,353.51 L368.85,360.11 L361.95,360.11Z" fill="#8a4cbf"/><path d="M365.40,354.85 L366.79,357.51 L364.01,357.51Z" fill="#fff"/>
<path d="M388.95,353.51 L392.40,360.11 L385.50,360.11Z" fill="#8a4cbf"/><path d="M388.95,354.85 L390.34,357.51 L387.56,357.51Z" fill="#fff"/>
<path d="M416.08,353.51 L419.53,360.11 L412.63,360.11Z" fill="#8a4cbf"/><path d="M416.08,354.85 L417.47,357.51 L414.69,357.51Z" fill="#fff"/>
<path d="M441.51,353.51 L444.96,360.11 L438.06,360.11Z" fill="#8a4cbf"/><path d="M441.51,354.85 L442.91,357.51 L440.12,357.51Z" fill="#fff"/>
<circle cx="472.53" cy="357.61" r="3.20" fill="#14c4d0"/><path d="M469.94,357.31 A2.60,2.60 0 0 1 475.11,357.31Z" fill="#fff"/>
<path d="M503.79,354.21 L503.79,361.01 L497.89,357.61Z" fill="#727a30"/><path d="M503.24,355.16 L503.24,357.41 L499.34,357.41Z" fill="#fff"/>
<path d="M517.48,354.21 L517.48,361.01 L511.58,357.61Z" fill="#727a30"/><path d="M516.93,355.16 L516.93,357.41 L513.03,357.41Z" fill="#fff"/>
<path d="M336.47,378.22 L342.27,378.22 L342.27,384.02 L336.47,384.02Z" fill="#ff3cf0"/><path d="M337.07,378.82 L341.67,378.82 L341.67,380.92 L337.07,380.92Z" fill="#fff"/>
<path d="M362.50,378.22 L368.30,378.22 L368.30,384.02 L362.50,384.02Z" fill="#ff3cf0"/><path d="M363.10,378.82 L367.70,378.82 L367.70,380.92 L363.10,380.92Z" fill="#fff"/>
<path d="M388.95,377.02 L392.40,383.62 L385.50,383.62Z" fill="#8a4cbf"/><path d="M388.95,378.36 L390.34,381.02 L387.56,381.02Z" fill="#fff"/>
<path d="M416.08,377.02 L419.53,383.62 L412.63,383.62Z" fill="#8a4cbf"/><path d="M416.08,378.36 L417.47,381.02 L414.69,381.02Z" fill="#fff"/>
<path d="M441.51,377.02 L444.96,383.62 L438.06,383.62Z" fill="#8a4cbf"/><path d="M441.51,378.36 L442.91,381.02 L440.12,381.02Z" fill="#fff"/>
<path d="M474.53,377.72 L474.53,384.52 L468.63,381.12Z" fill="#727a30"/><path d="M473.98,378.67 L473.98,380.92 L470.07,380.92Z" fill="#fff"/>
<path d="M503.79,377.72 L503.79,384.52 L497.89,381.12Z" fill="#727a30"/><path d="M503.24,378.67 L503.24,380.92 L499.34,380.92Z" fill="#fff"/>
<path d="M517.48,377.72 L517.48,384.52 L511.58,381.12Z" fill="#727a30"/><path d="M516.93,378.67 L516.93,380.92 L513.03,380.92Z" fill="#fff"/>
<path d="M336.47,403.28 L342.27,403.28 L342.27,409.08 L336.47,409.08Z" fill="#ff3cf0"/><path d="M337.07,403.88 L341.67,403.88 L341.67,405.98 L337.07,405.98Z" fill="#fff"/>
<path d="M362.50,403.28 L368.30,403.28 L368.30,409.08 L362.50,409.08Z" fill="#ff3cf0"/><path d="M363.10,403.88 L367.70,403.88 L367.70,405.98 L363.10,405.98Z" fill="#fff"/>
<path d="M386.05,403.28 L391.85,403.28 L391.85,409.08 L386.05,409.08Z" fill="#ff3cf0"/><path d="M386.65,403.88 L391.25,403.88 L391.25,405.98 L386.65,405.98Z" fill="#fff"/>
<path d="M416.08,402.08 L419.53,408.68 L412.63,408.68Z" fill="#8a4cbf"/><path d="M416.08,403.42 L417.47,406.08 L414.69,406.08Z" fill="#fff"/>
<path d="M441.51,402.08 L444.96,408.68 L438.06,408.68Z" fill="#8a4cbf"/><path d="M441.51,403.42 L442.91,406.08 L440.12,406.08Z" fill="#fff"/>
<path d="M474.53,402.78 L474.53,409.58 L468.63,406.18Z" fill="#727a30"/><path d="M473.98,403.73 L473.98,405.98 L470.07,405.98Z" fill="#fff"/>
<path d="M503.79,402.78 L503.79,409.58 L497.89,406.18Z" fill="#727a30"/><path d="M503.24,403.73 L503.24,405.98 L499.34,405.98Z" fill="#fff"/>
<path d="M517.48,402.78 L517.48,409.58 L511.58,406.18Z" fill="#727a30"/><path d="M516.93,403.73 L516.93,405.98 L513.03,405.98Z" fill="#fff"/>
<path d="M331.64,246.64 L337.44,246.64 L337.44,252.44 L331.64,252.44Z" fill="#ff3cf0"/><path d="M332.24,247.24 L336.84,247.24 L336.84,249.34 L332.24,249.34Z" fill="#fff"/>
<text x="345.79" y="252.54" font-size="8.5" font-family="Liberation Serif, serif" fill="#111">ST</text>
<path d="M365.21,245.44 L368.66,252.04 L361.76,252.04Z" fill="#8a4cbf"/><path d="M365.21,246.78 L366.60,249.44 L363.81,249.44Z" fill="#fff"/>
<text x="376.46" y="252.54" font-size="8.5" font-family="Liberation Serif, serif" fill="#111">ST&amp;MI</text>
<path d="M413.29,245.69 L417.14,249.54 L413.29,253.39 L409.44,249.54Z" fill="#ff8010"/><path d="M413.29,246.89 L415.84,249.44 L410.74,249.44Z" fill="#fff"/>
<text x="424.54" y="252.54" font-size="8.5" font-family="Liberation Serif, serif" fill="#111">D OS&amp;W</text>
<circle cx="468.54" cy="249.54" r="3.20" fill="#14c4d0"/><path d="M465.96,249.24 A2.60,2.60 0 0 1 471.13,249.24Z" fill="#fff"/>
<text x="479.69" y="252.54" font-size="8.5" font-family="Liberation Serif, serif" fill="#111">D W/O&amp;D O/W</text>
<circle cx="334.54" cy="260.32" r="3.20" fill="#1464ff"/><path d="M331.96,260.02 A2.60,2.60 0 0 1 337.12,260.02Z" fill="#fff"/>
<text x="345.79" y="263.32" font-size="8.5" font-family="Liberation Serif, serif" fill="#111">D W/O&amp;D O/W WF</text>
<path d="M423.83,256.62 L430.43,260.32 L423.83,264.02Z" fill="#10b020"/><path d="M424.43,257.64 L429.20,260.32 L429.20,260.32 L424.43,260.32Z" fill="#fff"/>
<text x="438.18" y="263.32" font-size="8.5" font-family="Liberation Serif, serif" fill="#111">D O/W</text>
<path d="M473.53,256.92 L473.53,263.72 L467.63,260.32Z" fill="#727a30"/><path d="M472.98,257.87 L472.98,260.12 L469.08,260.12Z" fill="#fff"/>
<text x="483.78" y="263.32" font-size="8.5" font-family="Liberation Serif, serif" fill="#111">D W/O</text>
<rect x="321.40" y="241.80" width="224.0" height="180.4" fill="none" stroke="#5a5a5a" stroke-width="1.6"/>
<line x1="328.68" y1="422.20" x2="328.68" y2="420.20" stroke="#333" stroke-width="1"/>
<line x1="321.40" y1="416.34" x2="323.40" y2="416.34" stroke="#333" stroke-width="1"/>
<line x1="335.19" y1="422.20" x2="335.19" y2="418.70" stroke="#333" stroke-width="1"/>
<line x1="321.40" y1="411.09" x2="324.90" y2="411.09" stroke="#333" stroke-width="1"/>
<line x1="378.03" y1="422.20" x2="378.03" y2="420.20" stroke="#333" stroke-width="1"/>
<line x1="321.40" y1="376.59" x2="323.40" y2="376.59" stroke="#333" stroke-width="1"/>
<line x1="403.09" y1="422.20" x2="403.09" y2="420.20" stroke="#333" stroke-width="1"/>
<line x1="321.40" y1="356.41" x2="323.40" y2="356.41" stroke="#333" stroke-width="1"/>
<line x1="420.87" y1="422.20" x2="420.87" y2="420.20" stroke="#333" stroke-width="1"/>
<line x1="321.40" y1="342.09" x2="323.40" y2="342.09" stroke="#333" stroke-width="1"/>
<line x1="434.66" y1="422.20" x2="434.66" y2="420.20" stroke="#333" stroke-width="1"/>
<line x1="321.40" y1="330.98" x2="323.40" y2="330.98" stroke="#333" stroke-width="1"/>
<line x1="445.93" y1="422.20" x2="445.93" y2="420.20" stroke="#333" stroke-width="1"/>
<line x1="321.40" y1="321.91" x2="323.40" y2="321.91" stroke="#333" stroke-width="1"/>
<line x1="455.46" y1="422.20" x2="455.46" y2="420.20" stroke="#333" stroke-width="1"/>
<line x1="321.40" y1="314.24" x2="323.40" y2="314.24" stroke="#333" stroke-width="1"/>
<line x1="463.71" y1="422.20" x2="463.71" y2="420.20" stroke="#333" stroke-width="1"/>
<line x1="321.40" y1="307.59" x2="323.40" y2="307.59" stroke="#333" stroke-width="1"/>
<line x1="470.99" y1="422.20" x2="470.99" y2="420.20" stroke="#333" stroke-width="1"/>
<line x1="321.40" y1="301.73" x2="323.40" y2="301.73" stroke="#333" stroke-width="1"/>
<line x1="477.50" y1="422.20" x2="477.50" y2="418.70" stroke="#333" stroke-width="1"/>
<line x1="321.40" y1="296.48" x2="324.90" y2="296.48" stroke="#333" stroke-width="1"/>
<line x1="520.34" y1="422.20" x2="520.34" y2="420.20" stroke="#333" stroke-width="1"/>
<line x1="321.40" y1="261.98" x2="323.40" y2="261.98" stroke="#333" stroke-width="1"/>
<line x1="520.34" y1="422.20" x2="520.34" y2="420.20" stroke="#333" stroke-width="1"/>
<line x1="321.40" y1="261.98" x2="323.40" y2="261.98" stroke="#333" stroke-width="1"/>
<text x="335.79" y="435.10" font-size="9.8" font-family="Liberation Serif, serif" fill="#111" text-anchor="middle">10<tspan font-size="6" dy="-4.1">&#8211;1</tspan></text>
<text x="318.10" y="414.89" font-size="9.8" font-family="Liberation Serif, serif" fill="#111" text-anchor="end">10<tspan font-size="6" dy="-4.1">&#8211;1</tspan></text>
<text x="478.10" y="435.10" font-size="9.8" font-family="Liberation Serif, serif" fill="#111" text-anchor="middle">10<tspan font-size="6" dy="-4.1">0</tspan></text>
<text x="318.10" y="300.28" font-size="9.8" font-family="Liberation Serif, serif" fill="#111" text-anchor="end">10<tspan font-size="6" dy="-4.1">0</tspan></text>
<text x="291.84" y="245.44" font-size="12" font-family="Liberation Serif, serif" fill="#111">(d)</text>
<text x="544.76" y="240.56" font-size="9.9" font-family="Liberation Serif, serif" fill="#111" text-anchor="end">+15°</text>
<text x="433.48" y="452.64" font-size="11.8" font-family="Liberation Serif, serif" fill="#111" text-anchor="middle">Uso (m/s)</text>
<text x="0" y="0" font-size="11.8" font-family="Liberation Serif, serif" fill="#111" text-anchor="middle" transform="translate(297.90,331.78) rotate(-90)">Usw (m/s)</text>
</svg>
</body></html>
